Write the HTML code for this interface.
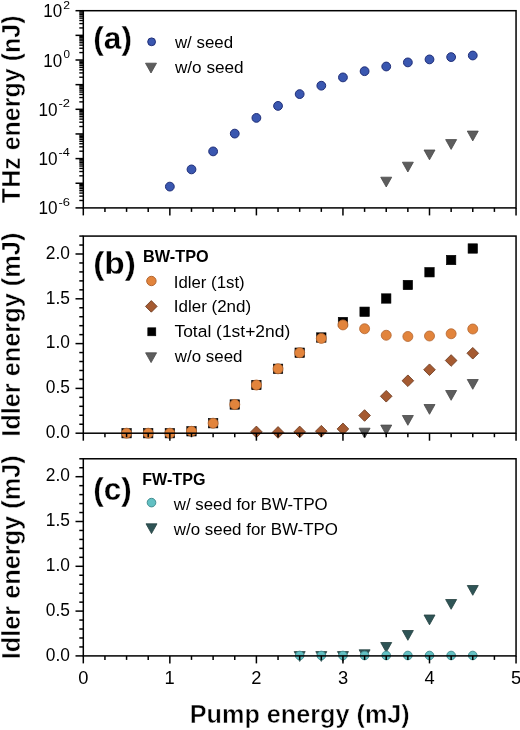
<!DOCTYPE html>
<html><head><meta charset="utf-8"><title>Pump energy plot</title>
<style>html,body{margin:0;padding:0;background:#fff;width:520px;height:730px;overflow:hidden}svg{display:block}text{font-family:'Liberation Sans', Arial, sans-serif}</style>
</head><body>
<svg width="520" height="730" viewBox="0 0 520 730">
<rect width="520" height="730" fill="#fff"/>
<g><circle cx="169.85" cy="186.60" r="4.4" fill="#3A57B0" stroke="#1F2E78" stroke-width="1.0"/><circle cx="191.49" cy="169.40" r="4.4" fill="#3A57B0" stroke="#1F2E78" stroke-width="1.0"/><circle cx="213.12" cy="151.40" r="4.4" fill="#3A57B0" stroke="#1F2E78" stroke-width="1.0"/><circle cx="234.76" cy="133.60" r="4.4" fill="#3A57B0" stroke="#1F2E78" stroke-width="1.0"/><circle cx="256.40" cy="117.90" r="4.4" fill="#3A57B0" stroke="#1F2E78" stroke-width="1.0"/><circle cx="278.04" cy="105.90" r="4.4" fill="#3A57B0" stroke="#1F2E78" stroke-width="1.0"/><circle cx="299.68" cy="94.10" r="4.4" fill="#3A57B0" stroke="#1F2E78" stroke-width="1.0"/><circle cx="321.31" cy="85.70" r="4.4" fill="#3A57B0" stroke="#1F2E78" stroke-width="1.0"/><circle cx="342.95" cy="77.40" r="4.4" fill="#3A57B0" stroke="#1F2E78" stroke-width="1.0"/><circle cx="364.59" cy="71.20" r="4.4" fill="#3A57B0" stroke="#1F2E78" stroke-width="1.0"/><circle cx="386.23" cy="66.50" r="4.4" fill="#3A57B0" stroke="#1F2E78" stroke-width="1.0"/><circle cx="407.86" cy="62.40" r="4.4" fill="#3A57B0" stroke="#1F2E78" stroke-width="1.0"/><circle cx="429.50" cy="59.40" r="4.4" fill="#3A57B0" stroke="#1F2E78" stroke-width="1.0"/><circle cx="451.14" cy="57.10" r="4.4" fill="#3A57B0" stroke="#1F2E78" stroke-width="1.0"/><circle cx="472.77" cy="55.50" r="4.4" fill="#3A57B0" stroke="#1F2E78" stroke-width="1.0"/><polygon points="380.73,177.20 391.73,177.20 386.23,187.00" fill="#5D5D5D" stroke="#474747" stroke-width="0.8" stroke-linejoin="miter"/><polygon points="402.36,162.20 413.36,162.20 407.86,172.00" fill="#5D5D5D" stroke="#474747" stroke-width="0.8" stroke-linejoin="miter"/><polygon points="424.00,150.00 435.00,150.00 429.50,159.80" fill="#5D5D5D" stroke="#474747" stroke-width="0.8" stroke-linejoin="miter"/><polygon points="445.64,139.60 456.64,139.60 451.14,149.40" fill="#5D5D5D" stroke="#474747" stroke-width="0.8" stroke-linejoin="miter"/><polygon points="467.27,131.10 478.27,131.10 472.77,140.90" fill="#5D5D5D" stroke="#474747" stroke-width="0.8" stroke-linejoin="miter"/><rect x="121.87" y="428.50" width="9.4" height="9.4" fill="#000000" stroke="#000000" stroke-width="0.6"/><rect x="143.51" y="428.50" width="9.4" height="9.4" fill="#000000" stroke="#000000" stroke-width="0.6"/><rect x="165.15" y="428.50" width="9.4" height="9.4" fill="#000000" stroke="#000000" stroke-width="0.6"/><rect x="186.79" y="426.60" width="9.4" height="9.4" fill="#000000" stroke="#000000" stroke-width="0.6"/><rect x="208.43" y="418.50" width="9.4" height="9.4" fill="#000000" stroke="#000000" stroke-width="0.6"/><rect x="230.06" y="399.80" width="9.4" height="9.4" fill="#000000" stroke="#000000" stroke-width="0.6"/><rect x="251.70" y="380.30" width="9.4" height="9.4" fill="#000000" stroke="#000000" stroke-width="0.6"/><rect x="273.34" y="364.10" width="9.4" height="9.4" fill="#000000" stroke="#000000" stroke-width="0.6"/><rect x="294.98" y="348.00" width="9.4" height="9.4" fill="#000000" stroke="#000000" stroke-width="0.6"/><rect x="316.61" y="332.80" width="9.4" height="9.4" fill="#000000" stroke="#000000" stroke-width="0.6"/><rect x="338.25" y="317.30" width="9.4" height="9.4" fill="#000000" stroke="#000000" stroke-width="0.6"/><rect x="359.89" y="307.05" width="9.4" height="9.4" fill="#000000" stroke="#000000" stroke-width="0.6"/><rect x="381.53" y="293.80" width="9.4" height="9.4" fill="#000000" stroke="#000000" stroke-width="0.6"/><rect x="403.16" y="280.30" width="9.4" height="9.4" fill="#000000" stroke="#000000" stroke-width="0.6"/><rect x="424.80" y="267.55" width="9.4" height="9.4" fill="#000000" stroke="#000000" stroke-width="0.6"/><rect x="446.44" y="255.30" width="9.4" height="9.4" fill="#000000" stroke="#000000" stroke-width="0.6"/><rect x="468.07" y="243.80" width="9.4" height="9.4" fill="#000000" stroke="#000000" stroke-width="0.6"/><circle cx="126.57" cy="433.20" r="5.0" fill="#E2843C" stroke="#B36631" stroke-width="0.8"/><circle cx="148.21" cy="433.20" r="5.0" fill="#E2843C" stroke="#B36631" stroke-width="0.8"/><circle cx="169.85" cy="433.20" r="5.0" fill="#E2843C" stroke="#B36631" stroke-width="0.8"/><circle cx="191.49" cy="431.30" r="5.0" fill="#E2843C" stroke="#B36631" stroke-width="0.8"/><circle cx="213.12" cy="423.20" r="5.0" fill="#E2843C" stroke="#B36631" stroke-width="0.8"/><circle cx="234.76" cy="404.50" r="5.0" fill="#E2843C" stroke="#B36631" stroke-width="0.8"/><circle cx="256.40" cy="385.00" r="5.0" fill="#E2843C" stroke="#B36631" stroke-width="0.8"/><circle cx="278.04" cy="368.80" r="5.0" fill="#E2843C" stroke="#B36631" stroke-width="0.8"/><circle cx="299.68" cy="352.70" r="5.0" fill="#E2843C" stroke="#B36631" stroke-width="0.8"/><circle cx="321.31" cy="338.40" r="5.0" fill="#E2843C" stroke="#B36631" stroke-width="0.8"/><circle cx="342.95" cy="324.90" r="5.0" fill="#E2843C" stroke="#B36631" stroke-width="0.8"/><circle cx="364.59" cy="328.75" r="5.0" fill="#E2843C" stroke="#B36631" stroke-width="0.8"/><circle cx="386.23" cy="335.25" r="5.0" fill="#E2843C" stroke="#B36631" stroke-width="0.8"/><circle cx="407.86" cy="336.50" r="5.0" fill="#E2843C" stroke="#B36631" stroke-width="0.8"/><circle cx="429.50" cy="336.00" r="5.0" fill="#E2843C" stroke="#B36631" stroke-width="0.8"/><circle cx="451.14" cy="333.75" r="5.0" fill="#E2843C" stroke="#B36631" stroke-width="0.8"/><circle cx="472.77" cy="329.00" r="5.0" fill="#E2843C" stroke="#B36631" stroke-width="0.8"/><polygon points="256.40,426.10 262.20,431.90 256.40,437.70 250.60,431.90" fill="#A55A31" stroke="#6F3D22" stroke-width="0.9"/><polygon points="278.04,426.60 283.84,432.40 278.04,438.20 272.24,432.40" fill="#A55A31" stroke="#6F3D22" stroke-width="0.9"/><polygon points="299.68,426.10 305.48,431.90 299.68,437.70 293.88,431.90" fill="#A55A31" stroke="#6F3D22" stroke-width="0.9"/><polygon points="321.31,425.40 327.11,431.20 321.31,437.00 315.51,431.20" fill="#A55A31" stroke="#6F3D22" stroke-width="0.9"/><polygon points="342.95,423.10 348.75,428.90 342.95,434.70 337.15,428.90" fill="#A55A31" stroke="#6F3D22" stroke-width="0.9"/><polygon points="364.59,409.70 370.39,415.50 364.59,421.30 358.79,415.50" fill="#A55A31" stroke="#6F3D22" stroke-width="0.9"/><polygon points="386.23,390.45 392.03,396.25 386.23,402.05 380.43,396.25" fill="#A55A31" stroke="#6F3D22" stroke-width="0.9"/><polygon points="407.86,374.95 413.66,380.75 407.86,386.55 402.06,380.75" fill="#A55A31" stroke="#6F3D22" stroke-width="0.9"/><polygon points="429.50,363.95 435.30,369.75 429.50,375.55 423.70,369.75" fill="#A55A31" stroke="#6F3D22" stroke-width="0.9"/><polygon points="451.14,354.70 456.94,360.50 451.14,366.30 445.34,360.50" fill="#A55A31" stroke="#6F3D22" stroke-width="0.9"/><polygon points="472.77,347.45 478.57,353.25 472.77,359.05 466.97,353.25" fill="#A55A31" stroke="#6F3D22" stroke-width="0.9"/><polygon points="359.09,428.20 370.09,428.20 364.59,438.00" fill="#5D5D5D" stroke="#474747" stroke-width="0.8" stroke-linejoin="miter"/><polygon points="380.73,425.10 391.73,425.10 386.23,434.90" fill="#5D5D5D" stroke="#474747" stroke-width="0.8" stroke-linejoin="miter"/><polygon points="402.36,415.50 413.36,415.50 407.86,425.30" fill="#5D5D5D" stroke="#474747" stroke-width="0.8" stroke-linejoin="miter"/><polygon points="424.00,404.50 435.00,404.50 429.50,414.30" fill="#5D5D5D" stroke="#474747" stroke-width="0.8" stroke-linejoin="miter"/><polygon points="445.64,390.50 456.64,390.50 451.14,400.30" fill="#5D5D5D" stroke="#474747" stroke-width="0.8" stroke-linejoin="miter"/><polygon points="467.27,379.50 478.27,379.50 472.77,389.30" fill="#5D5D5D" stroke="#474747" stroke-width="0.8" stroke-linejoin="miter"/><polygon points="294.18,651.60 305.18,651.60 299.68,661.40" fill="#2F5456" stroke="#23403F" stroke-width="0.8" stroke-linejoin="miter"/><polygon points="315.81,651.60 326.81,651.60 321.31,661.40" fill="#2F5456" stroke="#23403F" stroke-width="0.8" stroke-linejoin="miter"/><polygon points="337.45,651.60 348.45,651.60 342.95,661.40" fill="#2F5456" stroke="#23403F" stroke-width="0.8" stroke-linejoin="miter"/><polygon points="359.09,649.80 370.09,649.80 364.59,659.60" fill="#2F5456" stroke="#23403F" stroke-width="0.8" stroke-linejoin="miter"/><polygon points="380.73,642.50 391.73,642.50 386.23,652.30" fill="#2F5456" stroke="#23403F" stroke-width="0.8" stroke-linejoin="miter"/><polygon points="402.36,630.50 413.36,630.50 407.86,640.30" fill="#2F5456" stroke="#23403F" stroke-width="0.8" stroke-linejoin="miter"/><polygon points="424.00,615.00 435.00,615.00 429.50,624.80" fill="#2F5456" stroke="#23403F" stroke-width="0.8" stroke-linejoin="miter"/><polygon points="445.64,599.50 456.64,599.50 451.14,609.30" fill="#2F5456" stroke="#23403F" stroke-width="0.8" stroke-linejoin="miter"/><polygon points="467.27,585.50 478.27,585.50 472.77,595.30" fill="#2F5456" stroke="#23403F" stroke-width="0.8" stroke-linejoin="miter"/><circle cx="299.68" cy="655.50" r="4.3" fill="#62C0C3" stroke="#448F92" stroke-width="1.0"/><circle cx="321.31" cy="655.50" r="4.3" fill="#62C0C3" stroke="#448F92" stroke-width="1.0"/><circle cx="342.95" cy="655.50" r="4.3" fill="#62C0C3" stroke="#448F92" stroke-width="1.0"/><circle cx="364.59" cy="655.50" r="4.3" fill="#62C0C3" stroke="#448F92" stroke-width="1.0"/><circle cx="386.23" cy="655.50" r="4.3" fill="#62C0C3" stroke="#448F92" stroke-width="1.0"/><circle cx="407.86" cy="655.50" r="4.3" fill="#62C0C3" stroke="#448F92" stroke-width="1.0"/><circle cx="429.50" cy="655.50" r="4.3" fill="#62C0C3" stroke="#448F92" stroke-width="1.0"/><circle cx="451.14" cy="655.50" r="4.3" fill="#62C0C3" stroke="#448F92" stroke-width="1.0"/><circle cx="472.77" cy="655.50" r="4.3" fill="#62C0C3" stroke="#448F92" stroke-width="1.0"/></g>
<g><rect x="83.30" y="10.70" width="432.75" height="197.20" fill="none" stroke="#000" stroke-width="1.5"/><path d="M83.30 207.90L83.30 215.40" stroke="#000" stroke-width="1.5" fill="none"/><path d="M104.94 207.90L104.94 211.90" stroke="#000" stroke-width="1.5" fill="none"/><path d="M126.57 207.90L126.57 211.90" stroke="#000" stroke-width="1.5" fill="none"/><path d="M148.21 207.90L148.21 211.90" stroke="#000" stroke-width="1.5" fill="none"/><path d="M169.85 207.90L169.85 215.40" stroke="#000" stroke-width="1.5" fill="none"/><path d="M191.49 207.90L191.49 211.90" stroke="#000" stroke-width="1.5" fill="none"/><path d="M213.12 207.90L213.12 211.90" stroke="#000" stroke-width="1.5" fill="none"/><path d="M234.76 207.90L234.76 211.90" stroke="#000" stroke-width="1.5" fill="none"/><path d="M256.40 207.90L256.40 215.40" stroke="#000" stroke-width="1.5" fill="none"/><path d="M278.04 207.90L278.04 211.90" stroke="#000" stroke-width="1.5" fill="none"/><path d="M299.68 207.90L299.68 211.90" stroke="#000" stroke-width="1.5" fill="none"/><path d="M321.31 207.90L321.31 211.90" stroke="#000" stroke-width="1.5" fill="none"/><path d="M342.95 207.90L342.95 215.40" stroke="#000" stroke-width="1.5" fill="none"/><path d="M364.59 207.90L364.59 211.90" stroke="#000" stroke-width="1.5" fill="none"/><path d="M386.23 207.90L386.23 211.90" stroke="#000" stroke-width="1.5" fill="none"/><path d="M407.86 207.90L407.86 211.90" stroke="#000" stroke-width="1.5" fill="none"/><path d="M429.50 207.90L429.50 215.40" stroke="#000" stroke-width="1.5" fill="none"/><path d="M451.14 207.90L451.14 211.90" stroke="#000" stroke-width="1.5" fill="none"/><path d="M472.77 207.90L472.77 211.90" stroke="#000" stroke-width="1.5" fill="none"/><path d="M494.41 207.90L494.41 211.90" stroke="#000" stroke-width="1.5" fill="none"/><path d="M516.05 207.90L516.05 215.40" stroke="#000" stroke-width="1.5" fill="none"/><rect x="83.30" y="236.08" width="432.75" height="197.12" fill="none" stroke="#000" stroke-width="1.5"/><path d="M83.30 433.20L83.30 440.70" stroke="#000" stroke-width="1.5" fill="none"/><path d="M104.94 433.20L104.94 437.20" stroke="#000" stroke-width="1.5" fill="none"/><path d="M126.57 433.20L126.57 437.20" stroke="#000" stroke-width="1.5" fill="none"/><path d="M148.21 433.20L148.21 437.20" stroke="#000" stroke-width="1.5" fill="none"/><path d="M169.85 433.20L169.85 440.70" stroke="#000" stroke-width="1.5" fill="none"/><path d="M191.49 433.20L191.49 437.20" stroke="#000" stroke-width="1.5" fill="none"/><path d="M213.12 433.20L213.12 437.20" stroke="#000" stroke-width="1.5" fill="none"/><path d="M234.76 433.20L234.76 437.20" stroke="#000" stroke-width="1.5" fill="none"/><path d="M256.40 433.20L256.40 440.70" stroke="#000" stroke-width="1.5" fill="none"/><path d="M278.04 433.20L278.04 437.20" stroke="#000" stroke-width="1.5" fill="none"/><path d="M299.68 433.20L299.68 437.20" stroke="#000" stroke-width="1.5" fill="none"/><path d="M321.31 433.20L321.31 437.20" stroke="#000" stroke-width="1.5" fill="none"/><path d="M342.95 433.20L342.95 440.70" stroke="#000" stroke-width="1.5" fill="none"/><path d="M364.59 433.20L364.59 437.20" stroke="#000" stroke-width="1.5" fill="none"/><path d="M386.23 433.20L386.23 437.20" stroke="#000" stroke-width="1.5" fill="none"/><path d="M407.86 433.20L407.86 437.20" stroke="#000" stroke-width="1.5" fill="none"/><path d="M429.50 433.20L429.50 440.70" stroke="#000" stroke-width="1.5" fill="none"/><path d="M451.14 433.20L451.14 437.20" stroke="#000" stroke-width="1.5" fill="none"/><path d="M472.77 433.20L472.77 437.20" stroke="#000" stroke-width="1.5" fill="none"/><path d="M494.41 433.20L494.41 437.20" stroke="#000" stroke-width="1.5" fill="none"/><path d="M516.05 433.20L516.05 440.70" stroke="#000" stroke-width="1.5" fill="none"/><rect x="83.30" y="458.78" width="432.75" height="197.12" fill="none" stroke="#000" stroke-width="1.5"/><path d="M83.30 655.90L83.30 663.40" stroke="#000" stroke-width="1.5" fill="none"/><path d="M104.94 655.90L104.94 659.90" stroke="#000" stroke-width="1.5" fill="none"/><path d="M126.57 655.90L126.57 659.90" stroke="#000" stroke-width="1.5" fill="none"/><path d="M148.21 655.90L148.21 659.90" stroke="#000" stroke-width="1.5" fill="none"/><path d="M169.85 655.90L169.85 663.40" stroke="#000" stroke-width="1.5" fill="none"/><path d="M191.49 655.90L191.49 659.90" stroke="#000" stroke-width="1.5" fill="none"/><path d="M213.12 655.90L213.12 659.90" stroke="#000" stroke-width="1.5" fill="none"/><path d="M234.76 655.90L234.76 659.90" stroke="#000" stroke-width="1.5" fill="none"/><path d="M256.40 655.90L256.40 663.40" stroke="#000" stroke-width="1.5" fill="none"/><path d="M278.04 655.90L278.04 659.90" stroke="#000" stroke-width="1.5" fill="none"/><path d="M299.68 655.90L299.68 659.90" stroke="#000" stroke-width="1.5" fill="none"/><path d="M321.31 655.90L321.31 659.90" stroke="#000" stroke-width="1.5" fill="none"/><path d="M342.95 655.90L342.95 663.40" stroke="#000" stroke-width="1.5" fill="none"/><path d="M364.59 655.90L364.59 659.90" stroke="#000" stroke-width="1.5" fill="none"/><path d="M386.23 655.90L386.23 659.90" stroke="#000" stroke-width="1.5" fill="none"/><path d="M407.86 655.90L407.86 659.90" stroke="#000" stroke-width="1.5" fill="none"/><path d="M429.50 655.90L429.50 663.40" stroke="#000" stroke-width="1.5" fill="none"/><path d="M451.14 655.90L451.14 659.90" stroke="#000" stroke-width="1.5" fill="none"/><path d="M472.77 655.90L472.77 659.90" stroke="#000" stroke-width="1.5" fill="none"/><path d="M494.41 655.90L494.41 659.90" stroke="#000" stroke-width="1.5" fill="none"/><path d="M516.05 655.90L516.05 663.40" stroke="#000" stroke-width="1.5" fill="none"/><path d="M75.50 207.90L83.30 207.90" stroke="#000" stroke-width="1.5" fill="none"/><path d="M79.30 200.48L83.30 200.48" stroke="#000" stroke-width="1.4" fill="none"/><path d="M79.30 196.14L83.30 196.14" stroke="#000" stroke-width="1.4" fill="none"/><path d="M79.30 193.06L83.30 193.06" stroke="#000" stroke-width="1.4" fill="none"/><path d="M79.30 190.67L83.30 190.67" stroke="#000" stroke-width="1.4" fill="none"/><path d="M79.30 188.72L83.30 188.72" stroke="#000" stroke-width="1.4" fill="none"/><path d="M79.30 187.07L83.30 187.07" stroke="#000" stroke-width="1.4" fill="none"/><path d="M79.30 185.64L83.30 185.64" stroke="#000" stroke-width="1.4" fill="none"/><path d="M79.30 184.38L83.30 184.38" stroke="#000" stroke-width="1.4" fill="none"/><path d="M75.50 183.25L83.30 183.25" stroke="#000" stroke-width="1.5" fill="none"/><path d="M79.30 175.83L83.30 175.83" stroke="#000" stroke-width="1.4" fill="none"/><path d="M79.30 171.49L83.30 171.49" stroke="#000" stroke-width="1.4" fill="none"/><path d="M79.30 168.41L83.30 168.41" stroke="#000" stroke-width="1.4" fill="none"/><path d="M79.30 166.02L83.30 166.02" stroke="#000" stroke-width="1.4" fill="none"/><path d="M79.30 164.07L83.30 164.07" stroke="#000" stroke-width="1.4" fill="none"/><path d="M79.30 162.42L83.30 162.42" stroke="#000" stroke-width="1.4" fill="none"/><path d="M79.30 160.99L83.30 160.99" stroke="#000" stroke-width="1.4" fill="none"/><path d="M79.30 159.73L83.30 159.73" stroke="#000" stroke-width="1.4" fill="none"/><path d="M75.50 158.60L83.30 158.60" stroke="#000" stroke-width="1.5" fill="none"/><path d="M79.30 151.18L83.30 151.18" stroke="#000" stroke-width="1.4" fill="none"/><path d="M79.30 146.84L83.30 146.84" stroke="#000" stroke-width="1.4" fill="none"/><path d="M79.30 143.76L83.30 143.76" stroke="#000" stroke-width="1.4" fill="none"/><path d="M79.30 141.37L83.30 141.37" stroke="#000" stroke-width="1.4" fill="none"/><path d="M79.30 139.42L83.30 139.42" stroke="#000" stroke-width="1.4" fill="none"/><path d="M79.30 137.77L83.30 137.77" stroke="#000" stroke-width="1.4" fill="none"/><path d="M79.30 136.34L83.30 136.34" stroke="#000" stroke-width="1.4" fill="none"/><path d="M79.30 135.08L83.30 135.08" stroke="#000" stroke-width="1.4" fill="none"/><path d="M75.50 133.95L83.30 133.95" stroke="#000" stroke-width="1.5" fill="none"/><path d="M79.30 126.53L83.30 126.53" stroke="#000" stroke-width="1.4" fill="none"/><path d="M79.30 122.19L83.30 122.19" stroke="#000" stroke-width="1.4" fill="none"/><path d="M79.30 119.11L83.30 119.11" stroke="#000" stroke-width="1.4" fill="none"/><path d="M79.30 116.72L83.30 116.72" stroke="#000" stroke-width="1.4" fill="none"/><path d="M79.30 114.77L83.30 114.77" stroke="#000" stroke-width="1.4" fill="none"/><path d="M79.30 113.12L83.30 113.12" stroke="#000" stroke-width="1.4" fill="none"/><path d="M79.30 111.69L83.30 111.69" stroke="#000" stroke-width="1.4" fill="none"/><path d="M79.30 110.43L83.30 110.43" stroke="#000" stroke-width="1.4" fill="none"/><path d="M75.50 109.30L83.30 109.30" stroke="#000" stroke-width="1.5" fill="none"/><path d="M79.30 101.88L83.30 101.88" stroke="#000" stroke-width="1.4" fill="none"/><path d="M79.30 97.54L83.30 97.54" stroke="#000" stroke-width="1.4" fill="none"/><path d="M79.30 94.46L83.30 94.46" stroke="#000" stroke-width="1.4" fill="none"/><path d="M79.30 92.07L83.30 92.07" stroke="#000" stroke-width="1.4" fill="none"/><path d="M79.30 90.12L83.30 90.12" stroke="#000" stroke-width="1.4" fill="none"/><path d="M79.30 88.47L83.30 88.47" stroke="#000" stroke-width="1.4" fill="none"/><path d="M79.30 87.04L83.30 87.04" stroke="#000" stroke-width="1.4" fill="none"/><path d="M79.30 85.78L83.30 85.78" stroke="#000" stroke-width="1.4" fill="none"/><path d="M75.50 84.65L83.30 84.65" stroke="#000" stroke-width="1.5" fill="none"/><path d="M79.30 77.23L83.30 77.23" stroke="#000" stroke-width="1.4" fill="none"/><path d="M79.30 72.89L83.30 72.89" stroke="#000" stroke-width="1.4" fill="none"/><path d="M79.30 69.81L83.30 69.81" stroke="#000" stroke-width="1.4" fill="none"/><path d="M79.30 67.42L83.30 67.42" stroke="#000" stroke-width="1.4" fill="none"/><path d="M79.30 65.47L83.30 65.47" stroke="#000" stroke-width="1.4" fill="none"/><path d="M79.30 63.82L83.30 63.82" stroke="#000" stroke-width="1.4" fill="none"/><path d="M79.30 62.39L83.30 62.39" stroke="#000" stroke-width="1.4" fill="none"/><path d="M79.30 61.13L83.30 61.13" stroke="#000" stroke-width="1.4" fill="none"/><path d="M75.50 60.00L83.30 60.00" stroke="#000" stroke-width="1.5" fill="none"/><path d="M79.30 52.58L83.30 52.58" stroke="#000" stroke-width="1.4" fill="none"/><path d="M79.30 48.24L83.30 48.24" stroke="#000" stroke-width="1.4" fill="none"/><path d="M79.30 45.16L83.30 45.16" stroke="#000" stroke-width="1.4" fill="none"/><path d="M79.30 42.77L83.30 42.77" stroke="#000" stroke-width="1.4" fill="none"/><path d="M79.30 40.82L83.30 40.82" stroke="#000" stroke-width="1.4" fill="none"/><path d="M79.30 39.17L83.30 39.17" stroke="#000" stroke-width="1.4" fill="none"/><path d="M79.30 37.74L83.30 37.74" stroke="#000" stroke-width="1.4" fill="none"/><path d="M79.30 36.48L83.30 36.48" stroke="#000" stroke-width="1.4" fill="none"/><path d="M75.50 35.35L83.30 35.35" stroke="#000" stroke-width="1.5" fill="none"/><path d="M79.30 27.93L83.30 27.93" stroke="#000" stroke-width="1.4" fill="none"/><path d="M79.30 23.59L83.30 23.59" stroke="#000" stroke-width="1.4" fill="none"/><path d="M79.30 20.51L83.30 20.51" stroke="#000" stroke-width="1.4" fill="none"/><path d="M79.30 18.12L83.30 18.12" stroke="#000" stroke-width="1.4" fill="none"/><path d="M79.30 16.17L83.30 16.17" stroke="#000" stroke-width="1.4" fill="none"/><path d="M79.30 14.52L83.30 14.52" stroke="#000" stroke-width="1.4" fill="none"/><path d="M79.30 13.09L83.30 13.09" stroke="#000" stroke-width="1.4" fill="none"/><path d="M79.30 11.83L83.30 11.83" stroke="#000" stroke-width="1.4" fill="none"/><path d="M75.50 10.70L83.30 10.70" stroke="#000" stroke-width="1.5" fill="none"/><path d="M75.50 433.20L83.30 433.20" stroke="#000" stroke-width="1.5" fill="none"/><path d="M79.30 424.24L83.30 424.24" stroke="#000" stroke-width="1.5" fill="none"/><path d="M79.30 415.28L83.30 415.28" stroke="#000" stroke-width="1.5" fill="none"/><path d="M79.30 406.32L83.30 406.32" stroke="#000" stroke-width="1.5" fill="none"/><path d="M79.30 397.36L83.30 397.36" stroke="#000" stroke-width="1.5" fill="none"/><path d="M75.50 388.40L83.30 388.40" stroke="#000" stroke-width="1.5" fill="none"/><path d="M79.30 379.44L83.30 379.44" stroke="#000" stroke-width="1.5" fill="none"/><path d="M79.30 370.48L83.30 370.48" stroke="#000" stroke-width="1.5" fill="none"/><path d="M79.30 361.52L83.30 361.52" stroke="#000" stroke-width="1.5" fill="none"/><path d="M79.30 352.56L83.30 352.56" stroke="#000" stroke-width="1.5" fill="none"/><path d="M75.50 343.60L83.30 343.60" stroke="#000" stroke-width="1.5" fill="none"/><path d="M79.30 334.64L83.30 334.64" stroke="#000" stroke-width="1.5" fill="none"/><path d="M79.30 325.68L83.30 325.68" stroke="#000" stroke-width="1.5" fill="none"/><path d="M79.30 316.72L83.30 316.72" stroke="#000" stroke-width="1.5" fill="none"/><path d="M79.30 307.76L83.30 307.76" stroke="#000" stroke-width="1.5" fill="none"/><path d="M75.50 298.80L83.30 298.80" stroke="#000" stroke-width="1.5" fill="none"/><path d="M79.30 289.84L83.30 289.84" stroke="#000" stroke-width="1.5" fill="none"/><path d="M79.30 280.88L83.30 280.88" stroke="#000" stroke-width="1.5" fill="none"/><path d="M79.30 271.92L83.30 271.92" stroke="#000" stroke-width="1.5" fill="none"/><path d="M79.30 262.96L83.30 262.96" stroke="#000" stroke-width="1.5" fill="none"/><path d="M75.50 254.00L83.30 254.00" stroke="#000" stroke-width="1.5" fill="none"/><path d="M79.30 245.04L83.30 245.04" stroke="#000" stroke-width="1.5" fill="none"/><path d="M79.30 236.08L83.30 236.08" stroke="#000" stroke-width="1.5" fill="none"/><path d="M75.50 655.90L83.30 655.90" stroke="#000" stroke-width="1.5" fill="none"/><path d="M79.30 646.94L83.30 646.94" stroke="#000" stroke-width="1.5" fill="none"/><path d="M79.30 637.98L83.30 637.98" stroke="#000" stroke-width="1.5" fill="none"/><path d="M79.30 629.02L83.30 629.02" stroke="#000" stroke-width="1.5" fill="none"/><path d="M79.30 620.06L83.30 620.06" stroke="#000" stroke-width="1.5" fill="none"/><path d="M75.50 611.10L83.30 611.10" stroke="#000" stroke-width="1.5" fill="none"/><path d="M79.30 602.14L83.30 602.14" stroke="#000" stroke-width="1.5" fill="none"/><path d="M79.30 593.18L83.30 593.18" stroke="#000" stroke-width="1.5" fill="none"/><path d="M79.30 584.22L83.30 584.22" stroke="#000" stroke-width="1.5" fill="none"/><path d="M79.30 575.26L83.30 575.26" stroke="#000" stroke-width="1.5" fill="none"/><path d="M75.50 566.30L83.30 566.30" stroke="#000" stroke-width="1.5" fill="none"/><path d="M79.30 557.34L83.30 557.34" stroke="#000" stroke-width="1.5" fill="none"/><path d="M79.30 548.38L83.30 548.38" stroke="#000" stroke-width="1.5" fill="none"/><path d="M79.30 539.42L83.30 539.42" stroke="#000" stroke-width="1.5" fill="none"/><path d="M79.30 530.46L83.30 530.46" stroke="#000" stroke-width="1.5" fill="none"/><path d="M75.50 521.50L83.30 521.50" stroke="#000" stroke-width="1.5" fill="none"/><path d="M79.30 512.54L83.30 512.54" stroke="#000" stroke-width="1.5" fill="none"/><path d="M79.30 503.58L83.30 503.58" stroke="#000" stroke-width="1.5" fill="none"/><path d="M79.30 494.62L83.30 494.62" stroke="#000" stroke-width="1.5" fill="none"/><path d="M79.30 485.66L83.30 485.66" stroke="#000" stroke-width="1.5" fill="none"/><path d="M75.50 476.70L83.30 476.70" stroke="#000" stroke-width="1.5" fill="none"/><path d="M79.30 467.74L83.30 467.74" stroke="#000" stroke-width="1.5" fill="none"/><path d="M79.30 458.78L83.30 458.78" stroke="#000" stroke-width="1.5" fill="none"/></g>
<g><circle cx="151.60" cy="41.80" r="3.9" fill="#3A57B0" stroke="#1F2E78" stroke-width="1.0"/><polygon points="145.50,63.20 156.50,63.20 151.00,73.00" fill="#5D5D5D" stroke="#474747" stroke-width="0.8" stroke-linejoin="miter"/><circle cx="151.40" cy="281.00" r="4.7" fill="#E2843C" stroke="#B36631" stroke-width="1.0"/><polygon points="151.30,300.60 157.10,306.40 151.30,312.20 145.50,306.40" fill="#A55A31" stroke="#6F3D22" stroke-width="0.9"/><rect x="147.80" y="327.80" width="8.0" height="8.0" fill="#000000" stroke="#000000" stroke-width="0.6"/><polygon points="145.60,352.80 156.60,352.80 151.10,362.60" fill="#5D5D5D" stroke="#474747" stroke-width="0.8" stroke-linejoin="miter"/><circle cx="151.50" cy="502.60" r="4.3" fill="#62C0C3" stroke="#448F92" stroke-width="1.0"/><polygon points="146.00,523.80 157.00,523.80 151.50,533.60" fill="#2F5456" stroke="#23403F" stroke-width="0.8" stroke-linejoin="miter"/></g>
<g><text transform="translate(19.60,203.15) rotate(-90) scale(0.9444,1)" font-weight="700" font-size="26.5" fill="#000" stroke="#fff" stroke-width="0.5">THz energy (nJ)</text><text transform="translate(19.60,436.87) rotate(-90) scale(0.9567,1)" font-weight="700" font-size="26.5" fill="#000" stroke="#fff" stroke-width="0.5">Idler energy (mJ)</text><text transform="translate(19.60,659.27) rotate(-90) scale(0.9553,1)" font-weight="700" font-size="26.5" fill="#000" stroke="#fff" stroke-width="0.5">Idler energy (mJ)</text><text transform="translate(189.73,723.30) scale(0.9522,1)" font-weight="700" font-size="26.5" fill="#000" stroke="#fff" stroke-width="0.5">Pump energy (mJ)</text><text transform="translate(93.32,48.70) scale(1.0196,1)" font-weight="700" font-size="31" fill="#000" stroke="#fff" stroke-width="0.3">(a)</text><text transform="translate(93.23,273.50) scale(1.0798,1)" font-weight="700" font-size="31" fill="#000" stroke="#fff" stroke-width="0.3">(b)</text><text transform="translate(93.32,500.30) scale(1.0167,1)" font-weight="700" font-size="31" fill="#000" stroke="#fff" stroke-width="0.3">(c)</text><text transform="translate(174.90,48.00) scale(1.0238,1)" font-weight="400" font-size="16.5" fill="#000">w/ seed</text><text transform="translate(174.90,73.00) scale(1.0414,1)" font-weight="400" font-size="16.5" fill="#000">w/o seed</text><text transform="translate(143.06,262.40) scale(1.0172,1)" font-weight="700" font-size="16" fill="#000">BW-TPO</text><text transform="translate(173.79,287.70) scale(1.0185,1)" font-weight="400" font-size="16.5" fill="#000">Idler (1st)</text><text transform="translate(173.77,312.40) scale(1.0293,1)" font-weight="400" font-size="16.5" fill="#000">Idler (2nd)</text><text transform="translate(174.45,337.20) scale(1.0569,1)" font-weight="400" font-size="16.5" fill="#000">Total (1st+2nd)</text><text transform="translate(174.80,362.00) scale(1.0260,1)" font-weight="400" font-size="16.5" fill="#000">w/o seed</text><text transform="translate(142.27,484.90) scale(1.0076,1)" font-weight="700" font-size="16" fill="#000">FW-TPG</text><text transform="translate(173.80,510.10) scale(1.0196,1)" font-weight="400" font-size="16.5" fill="#000">w/ seed for BW-TPO</text><text transform="translate(173.80,535.20) scale(1.0264,1)" font-weight="400" font-size="16.5" fill="#000">w/o seed for BW-TPO</text><text transform="translate(45.83,437.90) scale(0.9500,1)" font-weight="400" font-size="18.3" fill="#000">0.0</text><text transform="translate(45.83,660.60) scale(0.9500,1)" font-weight="400" font-size="18.3" fill="#000">0.0</text><text transform="translate(45.83,393.10) scale(0.9500,1)" font-weight="400" font-size="18.3" fill="#000">0.5</text><text transform="translate(45.83,615.80) scale(0.9500,1)" font-weight="400" font-size="18.3" fill="#000">0.5</text><text transform="translate(45.83,348.30) scale(0.9500,1)" font-weight="400" font-size="18.3" fill="#000">1.0</text><text transform="translate(45.83,571.00) scale(0.9500,1)" font-weight="400" font-size="18.3" fill="#000">1.0</text><text transform="translate(45.83,303.50) scale(0.9500,1)" font-weight="400" font-size="18.3" fill="#000">1.5</text><text transform="translate(45.83,526.20) scale(0.9500,1)" font-weight="400" font-size="18.3" fill="#000">1.5</text><text transform="translate(45.83,258.70) scale(0.9500,1)" font-weight="400" font-size="18.3" fill="#000">2.0</text><text transform="translate(45.83,481.40) scale(0.9500,1)" font-weight="400" font-size="18.3" fill="#000">2.0</text><text transform="translate(78.18,683.50) scale(1.0000,1)" font-weight="400" font-size="18.3" fill="#000">0</text><text transform="translate(164.45,683.50) scale(1.0000,1)" font-weight="400" font-size="18.3" fill="#000">1</text><text transform="translate(251.28,683.50) scale(1.0000,1)" font-weight="400" font-size="18.3" fill="#000">2</text><text transform="translate(337.92,683.50) scale(1.0000,1)" font-weight="400" font-size="18.3" fill="#000">3</text><text transform="translate(424.47,683.50) scale(1.0000,1)" font-weight="400" font-size="18.3" fill="#000">4</text><text transform="translate(511.02,683.50) scale(1.0000,1)" font-weight="400" font-size="18.3" fill="#000">5</text><text transform="translate(43.34,17.20) scale(0.9273,1)" font-weight="400" font-size="18.3" fill="#000">10</text><text transform="translate(63.29,8.70) scale(1.0773,1)" font-weight="400" font-size="11.3" fill="#000">2</text><text transform="translate(43.34,66.50) scale(0.9273,1)" font-weight="400" font-size="18.3" fill="#000">10</text><text transform="translate(63.43,58.00) scale(1.0324,1)" font-weight="400" font-size="11.3" fill="#000">0</text><text transform="translate(38.53,115.80) scale(0.9383,1)" font-weight="400" font-size="18.3" fill="#000">10</text><text transform="translate(58.48,107.10) scale(1.1504,1)" font-weight="400" font-size="11.3" fill="#000">-2</text><text transform="translate(38.53,165.10) scale(0.9383,1)" font-weight="400" font-size="18.3" fill="#000">10</text><text transform="translate(58.49,156.40) scale(1.1224,1)" font-weight="400" font-size="11.3" fill="#000">-4</text><text transform="translate(38.53,214.40) scale(0.9383,1)" font-weight="400" font-size="18.3" fill="#000">10</text><text transform="translate(58.48,205.70) scale(1.1504,1)" font-weight="400" font-size="11.3" fill="#000">-6</text></g>
</svg>
</body></html>
